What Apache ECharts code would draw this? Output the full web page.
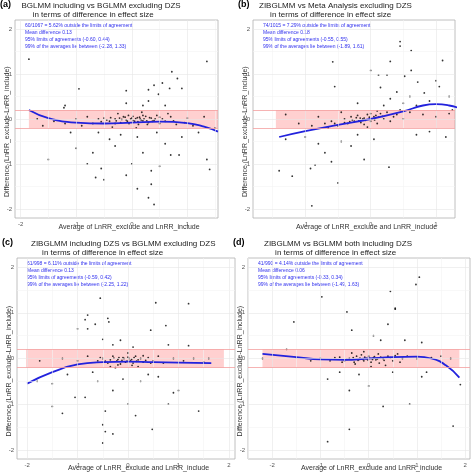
<!DOCTYPE html>
<html><head><meta charset="utf-8">
<script src="https://cdn.jsdelivr.net/npm/echarts@6/dist/echarts.min.js"></script>
<style>html,body{margin:0;padding:0;background:#fff}#c{width:474px;height:474px}</style>
</head><body><div id="c"></div>
<script>
// points (average, difference)
var ptsA = [[-1.85,1.33],[1.35,1.28],[0.72,1.05],[0.82,0.9],[0.4,0.75],[0.55,0.8],[0.68,0.68],[0.9,0.68],[-0.95,0.67],[-0.1,0.63],[0.3,0.65],[0.48,0.55],[-1.2,0.3],[-1.22,0.25],[0.3,0.4],[0.2,0.3],[-0.1,0.35],[0.6,0.3],
  [-1.5,-0.9],[-0.7,-0.75],[-0.8,-1.0],[-0.55,-1.1],[-0.5,-1.35],[-0.65,-1.3],[-0.1,-1.25],[0.1,-1.55],[0.35,-1.45],[0.3,-1.75],[0.4,-1.9],[0.35,-1.15],[0.5,-1.05],[0.7,-0.8],[0.85,-0.8],[1.35,-0.9],[1.4,-1.12],[0,-1.0],[-1.0,-0.65],[-0.3,-0.6],[0.2,-0.75],[0.6,-0.55],[-1.1,-0.3],[1.2,-0.3],[1.5,-0.2],[-0.4,-0.45],[0.1,-0.4],[-0.2,-0.35],[0.45,-0.3],[-0.6,-0.3],[0.9,-0.4],[-1.6,-0.15],[-1.4,-0.05],[-1.7,0.0],
  [-0.5,0.02],[-0.4,-0.05],[-0.3,0.0],[-0.2,-0.08],[-0.15,0.05],[-0.1,-0.02],[-0.05,-0.1],[0,0.02],[0.05,-0.05],[0.1,0.03],[0.12,-0.12],[0.15,0.0],[0.2,-0.04],[0.25,0.06],[0.3,-0.08],[0.35,0.02],[0.4,-0.03],[0.45,0.08],[0.5,-0.1],[0.55,0.0],[0.6,-0.05],[0.7,0.05],[0.8,-0.12],[-0.7,-0.1],[-0.8,0.05],[-0.9,-0.15],[-1.0,0.0],[-1.2,-0.1],[1.0,0.02],[1.1,-0.15],[1.3,0.05],[-0.25,0.12],[0.18,0.15],[-0.35,-0.18],[0.08,-0.2],[0.65,0.12],
  [-0.45,-0.02],[-0.38,0.03],[-0.28,-0.04],[-0.22,0.02],[-0.18,-0.01],[-0.12,0.04],[-0.08,-0.05],[-0.02,0.0],[0.02,-0.03],[0.07,0.01],[0.11,-0.06],[0.14,0.04],[0.17,-0.02],[0.22,0.0],[0.27,-0.04],[0.32,0.03],[0.37,-0.05],[0.42,0.0],[0.02,0.06],[-0.06,0.08],[0.2,0.08],[-0.3,-0.1],[0.28,-0.12],[0.5,0.04],[-0.6,0.0],[0.75,-0.04],[-0.55,-0.06],[0.95,-0.08]];
var curveA = [[-1.85,0.2],[-1.5,0.02],[-1,-0.08],[-0.5,-0.1],[0,-0.08],[0.5,-0.06],[1,-0.09],[1.3,-0.17],[1.55,-0.28]];

var ptsB = [[0.45,1.72],[0.45,1.62],[0.62,1.52],[1.1,1.3],[0.3,1.28],[-0.58,1.27],[0.0,1.08],[0.62,1.08],[0.12,0.98],[0.25,0.98],[0.52,0.95],[0.72,0.82],[1.0,0.85],[1.05,0.72],[0.82,0.58],[1.2,0.5],[0.4,0.6],[0.15,0.7],[-0.55,0.72],[0.3,0.45],[0.6,0.5],[0.9,0.4],[1.25,0.2],[0.5,0.35],[0.2,0.3],[-0.2,0.35],[0.7,0.3],
  [-1.4,-1.15],[-1.2,-1.27],[-0.92,-1.1],[-0.85,-1.02],[-0.5,-1.42],[-0.6,-0.95],[-0.1,-0.9],[-0.9,-1.93],[0.28,-1.07],[-0.7,-0.75],[-0.8,-0.55],[-0.3,-0.6],[0.7,-0.35],[0.9,-0.28],[1.15,-0.4],[1.45,-0.3],[-1.3,-0.45],[-1.0,-0.4],[-0.45,-0.5],[0.05,-0.45],[-0.2,-0.35],
  [-1.3,0.1],[-1.1,-0.1],[-0.9,-0.15],[-0.8,0.05],[-0.7,-0.1],[-0.6,-0.05],[-0.5,-0.15],[-0.4,0.0],[-0.35,-0.1],[-0.3,0.05],[-0.25,-0.05],[-0.2,0.08],[-0.15,-0.08],[-0.1,0.02],[-0.05,0.1],[0,-0.05],[0.05,0.05],[0.1,-0.1],[0.15,0.12],[0.2,0.0],[0.25,0.15],[0.3,-0.05],[0.4,0.1],[0.5,0.0],[0.6,0.15],[0.8,0.1],[1.0,0.05],[1.2,0.12],[-0.05,-0.18],[0.1,0.18],[-0.45,0.15],
  [-0.28,-0.02],[-0.22,0.03],[-0.18,-0.04],[-0.12,0.0],[-0.08,-0.03],[-0.02,0.04],[0.02,0.0],[0.06,-0.02],[0.12,0.04],[-0.16,0.02],[-0.32,-0.06],[-0.4,-0.08],[0.18,0.06],[0.08,0.08],[-0.55,-0.1],[0.35,0.05],[-0.1,-0.12],[0.0,0.12],[-0.65,-0.2],[0.45,0.2]];
var curveB = [[-1.4,-0.4],[-1,-0.27],[-0.5,-0.13],[0,0],[0.5,0.17],[0.8,0.3],[1.0,0.33],[1.2,0.3],[1.4,0.22]];

var ptsC = [[-0.55,1.32],[0.55,1.22],[1.2,1.2],[-0.8,0.95],[-0.85,0.85],[-0.4,0.88],[-0.38,0.8],[-0.65,0.75],[-1.0,0.65],[-0.8,0.65],[0.75,0.72],[0.45,0.62],[-0.5,0.42],[-0.15,0.4],[0.8,0.3],[1.2,0.28],[-0.3,0.3],[0.1,0.25],
  [-1.5,-1.05],[-1.3,-1.2],[-0.85,-0.85],[-1.05,-0.85],[-0.45,-1.15],[-0.5,-1.45],[-0.45,-1.6],[-0.3,-1.65],[-0.5,-1.85],[0.15,-1.25],[0.48,-1.55],[0.8,-1.0],[1.4,-1.15],[0.9,-0.75],[1.0,-0.7],[-0.6,-0.5],[0,-1.0],[0.25,-0.5],[-1.5,-0.55],[-1.8,-0.5],[-0.3,-0.7],[-0.1,-0.45],[0.4,-0.35],[-0.7,-0.3],[0.6,-0.4],[-1.2,-0.35],
  [-1.75,-0.05],[-1.3,0.0],[-1.0,-0.05],[-0.8,0.05],[-0.6,-0.05],[-0.5,0.0],[-0.4,-0.1],[-0.3,0.05],[-0.2,-0.02],[-0.15,-0.12],[-0.1,0.02],[-0.05,-0.08],[0,0.03],[0.05,-0.05],[0.1,-0.1],[0.15,0.05],[0.2,-0.03],[0.3,-0.08],[0.4,0.02],[0.5,-0.05],[0.6,0.05],[0.7,-0.1],[0.9,0.0],[1.1,-0.05],[1.3,0.0],[1.5,-0.08],[1.6,0.0],[-0.25,-0.2],[0.0,0.12],[0.2,-0.18],
  [-0.35,-0.03],[-0.28,0.01],[-0.22,-0.05],[-0.18,0.02],[-0.12,-0.04],[-0.08,0.0],[-0.02,-0.06],[0.02,0.0],[0.07,-0.02],[0.12,0.02],[0.17,-0.06],[0.25,0.0],[0.35,-0.04],[-0.45,-0.06],[-0.55,0.02],[0.45,-0.1],[-0.2,-0.14],[0.08,-0.15],[-0.35,-0.18],[0.3,0.06]];
var curveC = [[-2,-0.55],[-1.5,-0.3],[-1,-0.13],[-0.5,-0.08],[0,-0.07],[0.5,-0.08],[1,-0.09],[1.65,-0.1]];

var ptsD = [[1.05,1.78],[0.98,1.62],[0.45,1.47],[-0.97,1.35],[0.55,1.1],[0.55,1.08],[-0.45,1.02],[-1.55,0.8],[0.4,0.75],[-0.35,0.62],[0.25,0.4],[0.1,0.5],[0.75,0.4],[1.1,0.35],
  [-0.85,-0.45],[-0.4,-0.7],[0,-0.6],[-0.85,-1.82],[-0.4,-1.55],[0.3,-1.05],[0.85,-1.0],[1.75,-1.48],[1.9,-0.57],[1.1,-0.4],[-0.2,-0.35],[0.5,-0.3],[-0.6,-0.3],[1.2,-0.3],
  [-2.2,0.0],[-1.7,0.2],[-1.5,0.02],[-1.2,-0.05],[-1.0,0.0],[-0.8,-0.05],[-0.6,0.03],[-0.5,-0.05],[-0.4,0.0],[-0.3,-0.08],[-0.25,0.05],[-0.2,-0.02],[-0.15,0.08],[-0.1,-0.05],[-0.05,0.0],[0,0.05],[0.05,-0.08],[0.1,0.02],[0.15,-0.03],[0.2,0.1],[0.3,0.0],[0.4,0.05],[0.5,-0.05],[0.6,0.1],[0.7,0.0],[0.8,0.05],[1.0,0.0],[1.3,0.02],[1.5,0.05],[1.7,0.0],[-0.1,0.15],[0.05,-0.18],[-0.35,0.12],[0.35,-0.15],
  [-0.45,-0.02],[-0.32,0.02],[-0.22,-0.04],[-0.18,0.01],[-0.12,-0.02],[-0.08,0.03],[-0.02,-0.03],[0.02,0.01],[0.08,-0.02],[0.12,0.04],[0.18,-0.01],[0.25,0.03],[0.32,-0.04],[0.45,0.02],[-0.55,-0.08],[-0.7,0.02],[0.55,0.06],[-0.28,-0.12],[0.22,-0.1],[0.65,-0.08]];
var curveD = [[-2.2,0.1],[-1.5,0.03],[-1,-0.02],[-0.5,-0.03],[0,0],[0.5,0.03],[1,0.04],[1.3,0],[1.6,-0.15],[1.88,-0.42]];

var titlesA = ["BGLMM including vs BGLMM excluding DZS","ZIBGLMM vs Meta Analysis excluding DZS","ZIBGLMM including DZS vs BGLMM excluding DZS","ZIBGLMM vs BGLMM both including DZS"];
var tags = ["(a)","(b)","(c)","(d)"];
var notes = [
  ["60/1067 = 5.62% outside the limits of agreement","Mean difference 0.13","95% limits of agreements (-0.60, 0.44)","99% of the averages lie between (-2.28, 1.33)"],
  ["74/1015 = 7.29% outside the limits of agreement","Mean difference 0.18","95% limits of agreements (-0.55, 0.55)","99% of the averages lie between (-1.89, 1.61)"],
  ["61/998 = 6.11% outside the limits of agreement","Mean difference 0.13","95% limits of agreements (-0.59, 0.42)","99% of the averages lie between (-2.25, 1.22)"],
  ["41/990 = 4.14% outside the limits of agreement","Mean difference 0.06","95% limits of agreements (-0.33, 0.34)","99% of the averages lie between (-1.49, 1.63)"]];
var xRanges = [[-2.1,1.55],[-1.8,1.29],[-2.2,2.12],[-2.5,2.1]];
var xGrid = [[-2,-1.5,-1,-0.5,0,0.5,1,1.5],[-1.5,-1,-0.5,0,0.5,1],[-2,-1.5,-1,-0.5,0,0.5,1,1.5,2],[-2.5,-2,-1.5,-1,-0.5,0,0.5,1,1.5,2]];
var bandX = [[-1.85,1.55],[-1.45,1.42],[-2.02,1.9],[-2.2,1.88]];
var yGrid = [-2,-1.5,-1,-0.5,0,0.5,1,1.5,2];

var grids = [{left:15,top:20,width:203,height:198},{left:253,top:20,width:202,height:198},
             {left:17,top:258,width:218,height:201},{left:248,top:258,width:222,height:201}];
var pts = [ptsA,ptsB,ptsC,ptsD], curves = [curveA,curveB,curveC,curveD];

function intLabel(v){ return Math.abs(v-Math.round(v))<1e-6 ? String(Math.round(v)) : ''; }

var option = {animation:false, grid:[], xAxis:[], yAxis:[], series:[], graphic:[]};
for (var i=0;i<4;i++){
  var g = grids[i];
  option.grid.push({left:g.left,top:g.top,width:g.width,height:g.height,show:true,borderColor:'#b0b0b0',borderWidth:0.8});
  option.xAxis.push({type:'value',gridIndex:i,min:xRanges[i][0],max:xRanges[i][1],interval:0.1,
    axisLine:{show:false},axisTick:{show:false},
    axisLabel:{fontSize:6,color:'#555',margin:3,interval:0,hideOverlap:false,showMinLabel:true,showMaxLabel:false,formatter:intLabel},
    splitLine:{show:false}});
  option.yAxis.push({type:'value',gridIndex:i,min:-2.2,max:2.2,interval:0.1,
    axisLine:{show:false},axisTick:{show:false},
    axisLabel:{fontSize:6,color:'#555',margin:3,interval:0,hideOverlap:false,formatter:intLabel},
    splitLine:{show:false}});
  var gl = [];
  xGrid[i].forEach(function(v){ gl.push({xAxis:v,lineStyle:{color:Math.abs(v%1)>0?'#f3f3f3':'#e6e6e6',width:0.6,type:'solid'}}); });
  yGrid.forEach(function(v){ gl.push({yAxis:v,lineStyle:{color:Math.abs(v%1)>0?'#f3f3f3':'#e6e6e6',width:0.6,type:'solid'}}); });
  option.series.push({type:'line',xAxisIndex:i,yAxisIndex:i,data:[],symbol:'none',z:1,
    markLine:{silent:true,symbol:'none',label:{show:false},data:gl}});
  option.series.push({type:'line',xAxisIndex:i,yAxisIndex:i,data:[],symbol:'none',z:2,
    markArea:{silent:true,itemStyle:{color:'rgba(255,120,120,0.35)'},data:[[{xAxis:bandX[i][0],yAxis:-0.2},{xAxis:bandX[i][1],yAxis:0.2}]]},
    markLine:{silent:true,symbol:'none',label:{show:false},lineStyle:{color:'#f4a0a0',type:'solid',width:0.8},data:[{yAxis:0.2},{yAxis:-0.2}]}});
  option.series.push({type:'scatter',xAxisIndex:i,yAxisIndex:i,data:pts[i],symbolSize:1.8,itemStyle:{color:'#000'},z:3});
  option.series.push({type:'line',xAxisIndex:i,yAxisIndex:i,data:curves[i],smooth:true,symbol:'none',lineStyle:{color:'#2222dd',width:1.8},z:4});
  var cx = g.left + g.width/2;
  option.graphic.push({type:'text',left:cx - 95, top:g.top-19,style:{text:titlesA[i]+'\n     in terms of difference in effect size',fontSize:8,fill:'#222',lineHeight:9,fontFamily:'Liberation Sans'}});
  option.graphic.push({type:'text',left:g.left-15,top:g.top-20,style:{text:tags[i],fontSize:9,fontWeight:'bold',fill:'#000'}});
  option.graphic.push({type:'text',left:g.left+10,top:g.top+2,style:{text:notes[i].join('\n'),fontSize:5,lineHeight:7,fill:'#3030ee'}});
  option.graphic.push({type:'text',left:cx-58,top:g.top+g.height+6,style:{text:'Average of LnRR_exclude and LnRR_include',fontSize:7,fill:'#333'}});
  option.graphic.push({type:'text',x:g.left-11,y:g.top+g.height/2+78,rotation:Math.PI/2,style:{text:'Difference (LnRR_exclude-LnRR_include)',fontSize:7,fill:'#333'}});
}
echarts.init(document.getElementById('c')).setOption(option);
</script></body></html>
